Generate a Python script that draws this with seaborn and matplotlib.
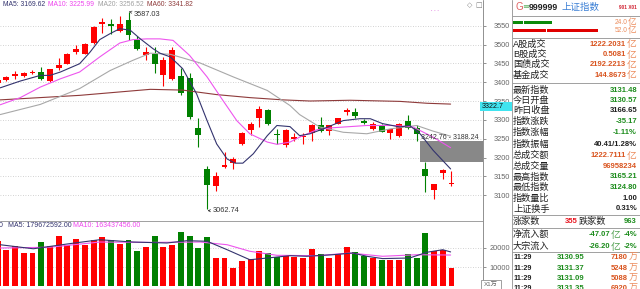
import numpy as np
import pandas as pd
import matplotlib
matplotlib.use("Agg")
import matplotlib.pyplot as plt
from matplotlib.patches import Rectangle
from matplotlib.lines import Line2D
import seaborn as sns

# 上证指数 日K线 (画面内53根)
opens = [3399, 3404.8, 3415.5, 3417.3, 3423.4, 3427, 3403, 3438.6, 3449.2, 3480.1,
         3475.8, 3504, 3553.8, 3555.6, 3536, 3564, 3511, 3472, 3475.8, 3420,
         3409, 3416, 3412, 3278, 3170, 3123.7, 3174, 3185, 3236.4, 3273.7,
         3305.6, 3327, 3262, 3232, 3248, 3254, 3264.6, 3287, 3270, 3289.6,
         3320.5, 3320.5, 3295.8, 3275.3, 3287, 3265.7, 3256, 3295.8, 3279, 3170,
         3115, 3160, 3130.57]
highs = [3407, 3416, 3428.8, 3428, 3433, 3440, 3436, 3464, 3477, 3500,
         3503, 3548, 3569.7, 3569, 3575, 3587.03, 3522, 3493, 3493, 3467,
         3493, 3438.6, 3424, 3305.6, 3178.7, 3161, 3214, 3200.8, 3267, 3294,
         3335.7, 3330, 3276, 3276, 3264.6, 3265, 3289.6, 3307, 3285, 3306,
         3331, 3331, 3303, 3294, 3289, 3276, 3291, 3311.7, 3285, 3188.24,
         3130, 3170, 3165.21]
lows = [3396, 3402, 3409, 3414, 3421, 3405, 3401, 3433, 3447, 3476,
        3474, 3502, 3530.6, 3529, 3534, 3511, 3484.6, 3458, 3424, 3389,
        3405, 3365, 3303, 3227, 3062.74, 3112, 3172.6, 3170, 3232, 3258.5,
        3280.6, 3287, 3236.4, 3227, 3243.4, 3236.4, 3243.4, 3267, 3261, 3288,
        3314, 3305.6, 3289.6, 3273.7, 3267, 3249.7, 3254, 3276, 3242.76, 3107.7,
        3090, 3143, 3124.80]
closes = [3405, 3413.6, 3422.6, 3425.3, 3427, 3409, 3434, 3444.7, 3475.8, 3487.3,
          3501.4, 3546.6, 3559, 3548.5, 3555.6, 3524.5, 3488, 3480, 3447.4, 3460,
          3486.5, 3371, 3307, 3260, 3127, 3150, 3181.4, 3194.7, 3265.7, 3287.8,
          3327.7, 3289.6, 3258.5, 3271.8, 3254, 3258, 3285, 3270, 3285, 3304.5,
          3327, 3309, 3291, 3289.6, 3269, 3276, 3289.6, 3279, 3263, 3152,
          3130, 3166.65, 3131.48]
# 成交量 (万)
volumes = [23800, 19000, 20900, 17400, 17600, 23100, 20900, 26100, 21700, 24800,
           21600, 24000, 25500, 24200, 22200, 24000, 18600, 20700, 26100, 20700,
           21600, 28100, 26100, 20000, 25700, 15000, 15000, 9600, 13400, 14500,
           18600, 17600, 15200, 16000, 15200, 14800, 19500, 16900, 14800, 16700,
           20700, 17700, 15700, 14800, 13800, 13600, 13800, 16900, 14800, 27600,
           18400, 19000, 9696]

# 均线 (按K线序号读取)
ma5_pos = [0.3, 2.6, 4.9, 6.0, 7.2, 9.4, 10.6, 11.7, 12.9, 14.0, 15.2, 16.3, 17.8, 18.6,
           19.8, 21.2, 22.8, 24.0, 25.1, 26.3, 27.2, 28.1, 29.3, 30.9, 32.0, 33.5, 34.6,
           35.8, 37.3, 39.6, 41.5, 42.7, 44.1, 46.1, 47.2, 48.4, 49.9, 51.9]
ma5_val = [3385, 3403, 3418, 3418, 3427, 3449, 3480, 3513, 3529, 3542, 3538, 3516, 3489, 3477,
           3467, 3436, 3369, 3298, 3236, 3196, 3185, 3185, 3210, 3258, 3285, 3282, 3258,
           3263, 3276, 3298, 3303, 3303, 3290, 3281, 3285, 3263, 3219, 3169.62]
ma10_pos = [0.3, 2.6, 4.9, 7.2, 9.4, 11.7, 14.0, 15.5, 17.1, 18.6, 20.1, 22.0, 24.0, 25.8,
            27.4, 28.9, 30.9, 32.0, 33.5, 34.6, 36.6, 38.4, 42.3, 45.3, 47.6, 49.9, 51.9]
ma10_val = [3340, 3359, 3387, 3409, 3427, 3467, 3504, 3513, 3515, 3515, 3511, 3471, 3414, 3352,
            3298, 3263, 3241, 3235, 3241, 3254, 3274, 3279, 3285, 3285, 3281, 3254, 3225.99]
ma20_pos = [0.3, 4.9, 9.4, 12.9, 15.5, 17.5, 19.8, 23.2, 27.0, 30.9, 33.5, 34.6, 36.9, 39.6,
            42.3, 45.0, 48.0, 49.9, 51.9]
ma20_val = [3314, 3341, 3383, 3431, 3458, 3477, 3474, 3451, 3414, 3378, 3338, 3314, 3281, 3267,
            3263, 3276, 3285, 3270, 3256.52]
ma60_pos = [0.3, 9.4, 17.5, 21.2, 25.1, 28.9, 32.7, 35.8, 40.4, 46.1, 49.2, 51.9]
ma60_val = [3353, 3365, 3381, 3379, 3367, 3359, 3353, 3350, 3352, 3349, 3344, 3341.82]
vma5_pos = [0.3, 4.1, 8.0, 11.7, 15.5, 19.4, 21.7, 24.0, 26.3, 28.9, 30.9, 33.5, 35.4, 38.4,
            40.7, 42.3, 44.1, 47.2, 49.2, 51.0, 51.9]
vma5_val = [21700, 19600, 22100, 24300, 23100, 22600, 23800, 23500, 19100, 13900, 14800, 16000,
            15700, 16500, 17400, 15700, 14500, 14800, 17800, 19100, 17967]
vma10_pos = [0.3, 6.0, 11.7, 17.5, 23.2, 26.3, 28.9, 32.0, 36.6, 40.4, 44.1, 48.0, 51.9]
vma10_val = [20000, 20400, 23100, 22900, 23100, 21700, 18300, 16200, 16000, 17400, 15700, 16500,
             16344]

price_ticks = [3100, 3150, 3200, 3250, 3300, 3350, 3400, 3450, 3500, 3550]
vol_ticks = [10000, 20000]
gap_top, gap_bottom = 3242.76, 3188.24

# 右侧报价栏
info_a_labels = ['A股成交', 'B股成交', '国债成交', '基金成交']
info_a_values = ['1222.2031', '0.5081', '2192.2213', '144.8673']
info_b_labels = ['最新指数', '今日开盘', '昨日收盘', '指数涨跌', '指数涨幅', '指数振幅',
                 '总成交额', '总成交量', '最高指数', '最低指数', '指数量比', '上证换手']
info_b_values = ['3131.48', '3130.57', '3166.65', '-35.17', '-1.11%', '40.41/1.28%',
                 '1222.7111', '96958234', '3165.21', '3124.80', '1.00', '0.31%']
info_b_kind = ['g', 'g', 'k', 'g', 'g', 'k', 'o', 'o', 'g', 'g', 'k', 'k']
tick_times = ['11:29', '11:29', '11:29', '11:29']
tick_prices = ['3130.95', '3131.37', '3131.09', '3131.35']
tick_vols = ['7180', '5248', '5088', '6920']
bar_amounts = [24.0, 52.0]

RED = '#ff0000'
GREEN = '#008000'
W, H = 640, 289

sns.set_style("white")
plt.rcParams['font.family'] = ['Liberation Sans', 'Noto Sans CJK SC', 'DejaVu Sans']

fig = plt.figure(figsize=(6.4, 2.89), dpi=100)


def px_box(x0, y0, x1, y1):
    return [x0 / W, 1 - y1 / H, (x1 - x0) / W, (y1 - y0) / H]


def ftext(x, y, s, **kw):
    kw.setdefault('va', 'center')
    fig.text(x / W, 1 - y / H, s, **kw)


def fline(x0, y0, x1, y1, color='#a0a0a0', lw=0.7):
    fig.add_artist(Line2D([x0 / W, x1 / W], [1 - y0 / H, 1 - y1 / H],
                          color=color, lw=lw, transform=fig.transFigure))


def frect(x0, y0, x1, y1, **kw):
    fig.add_artist(Rectangle((x0 / W, 1 - y1 / H), (x1 - x0) / W, (y1 - y0) / H,
                             transform=fig.transFigure, **kw))


ax = fig.add_axes(px_box(0, 0, 483, 221))
axv = fig.add_axes(px_box(0, 221, 483, 289))

idx = np.arange(len(closes))
o = np.array(opens)
c = np.array(closes)
up = c >= o
cols = np.where(up, RED, GREEN)

# K线
ax.vlines(idx, lows, highs, colors=cols, linewidth=0.8, zorder=3)
ax.bar(idx, np.maximum(np.abs(c - o), 2.0), bottom=np.minimum(o, c), width=0.68,
       color=cols, linewidth=0, zorder=3)

# 均线
for pos, val, col in [(ma60_pos, ma60_val, '#8e3a3a'), (ma20_pos, ma20_val, '#a8a8a8'),
                      (ma10_pos, ma10_val, '#ee55ee'), (ma5_pos, ma5_val, '#33336e')]:
    sns.lineplot(x=pos, y=val, color=col, linewidth=0.8, ax=ax, zorder=4)

# 缺口
ax.add_patch(Rectangle((48.35, gap_bottom), 60 - 48.35, gap_top - gap_bottom,
                       facecolor='#888888', edgecolor='none', zorder=2))
ax.text(48.47, 3254.4, f'{gap_top:.2f} - {gap_bottom:.2f}', fontsize=5.0,
        color='#333333', va='center', ha='left', zorder=5)

hi_i = int(np.argmax(highs))
lo_i = int(np.argmin(lows))
ax.annotate(f'{highs[hi_i]:.2f}', xy=(hi_i + 0.05, highs[hi_i]), xytext=(hi_i + 0.55, 3580),
            fontsize=5.3, color='#333333', va='center', ha='left',
            arrowprops=dict(arrowstyle='->', lw=0.5, color='#333333', mutation_scale=4,
                            shrinkA=0, shrinkB=0))
ax.annotate(f'{lows[lo_i]:.2f}', xy=(lo_i + 0.05, 3058.8), xytext=(lo_i + 0.68, 3058.8),
            fontsize=5.3, color='#333333', va='center', ha='left',
            arrowprops=dict(arrowstyle='->', lw=0.5, color='#333333', mutation_scale=4,
                            shrinkA=0, shrinkB=0))

for t in price_ticks:
    ax.axhline(t, color='#c4c4c4', lw=0.6, ls=(0, (1, 2)), zorder=1)

ax.set_xlim(0.278, 55.61)
ax.set_ylim(3031.4, 3618.2)

# 成交量
vdf = pd.DataFrame({'i': idx, 'vol': volumes, 'dir': np.where(up, 'up', 'down')})
sns.barplot(data=vdf, x='i', y='vol', hue='dir', palette={'up': RED, 'down': GREEN},
            native_scale=True, width=0.68, dodge=False, saturation=1, errorbar=None,
            legend=False, linewidth=0, ax=axv, zorder=3)
sns.lineplot(x=vma10_pos, y=vma10_val, color='#ee55ee', linewidth=0.8, ax=axv, zorder=4)
sns.lineplot(x=vma5_pos, y=vma5_val, color='#33336e', linewidth=0.8, ax=axv, zorder=4)
for t in vol_ticks:
    axv.axhline(t, color='#c4c4c4', lw=0.6, ls=(0, (1, 2)), zorder=1)
axv.set_xlim(0.278, 55.61)
axv.set_ylim(-1299, 34026)

for a, ticks, fmt in [(ax, price_ticks, '{}'), (axv, vol_ticks, '{}')]:
    a.set_xlabel('')
    a.set_ylabel('')
    a.set_xticks([])
    for s in a.spines.values():
        s.set_visible(False)
    a.yaxis.tick_right()
    a.set_yticks(ticks)
    a.set_yticklabels([fmt.format(t) for t in ticks])
    a.tick_params(axis='y', direction='out', length=2.2, width=0.6, color='#808080',
                  pad=17.5, labelsize=5.3, labelcolor='#666666')
    for lab in a.get_yticklabels():
        lab.set_ha('right')
    a.patch.set_alpha(0)

# 图例文字
ftext(3, 5, 'MA5: 3169.62', fontsize=4.9, color='#33336e')
ftext(48, 5, 'MA10: 3225.99', fontsize=4.9, color='#ee44ee')
ftext(98, 5, 'MA20: 3256.52', fontsize=4.9, color='#a0a0a0')
ftext(147, 5, 'MA60: 3341.82', fontsize=4.9, color='#8e3a3a')
ftext(431, 10.7, '•  •  •', fontsize=2.6, color='#e080e0')
ftext(467, 5, '◇', fontsize=5, color='#808080', family='DejaVu Sans')
ftext(475, 5, '□', fontsize=5, color='#808080', family='DejaVu Sans')
ftext(-1, 225.3, '0', fontsize=5.0, color='#33336e')
ftext(8, 225.3, 'MA5: 179672592.00', fontsize=5.0, color='#33336e')
ftext(73, 225.3, 'MA10: 163437456.00', fontsize=5.0, color='#ee44ee')

# 分隔线
fline(0, 221, 483, 221)
fline(483, 0, 483, 289, color='#909090')
fline(512, 0, 512, 289, color='#a0a0a0')
for yy in [16, 38, 83, 215, 228, 252]:
    fline(512, yy, 640, yy)

# 价格光标
frect(480, 102, 512, 110.5, facecolor='#40e4f0', edgecolor='none', zorder=5)
ftext(482, 106.3, '3322.7', fontsize=5.2, color='#111111', zorder=6)
frect(481, 280, 501, 289, facecolor='white', edgecolor='#909090', lw=0.6, zorder=5)
ftext(491, 284.5, 'X1万', fontsize=4.5, color='#666666', ha='center', zorder=6)

# 右侧面板
GT = '#1c8c1c'
OR = '#d9541e'
ORL = '#ec8c5c'
KT = '#202020'
ftext(515, 7, 'G', fontsize=7, color='#e06060')
ftext(522.5, 7, '≡', fontsize=6, color='#60b060', family='DejaVu Sans')
ftext(529, 7, '999999', fontsize=6.3, color=KT, weight='bold')
ftext(561, 7, '上证指数', fontsize=6.8, color='#3a7fd5')
ftext(637, 7.5, '901 X01', fontsize=3.4, color='#d02030', ha='right', weight='bold')

bar_full = 85.0
for k, (amt, yy, col) in enumerate(zip(bar_amounts, [21.3, 29.3], ['#0a8a0a', '#e00000'])):
    ln = amt / max(bar_amounts) * bar_full
    frect(513, yy, 513 + ln, yy + 3.0, facecolor=col, edgecolor='none')
    gx = 522.5 if k == 0 else 546
    frect(gx, yy - 0.2, gx + 1.2, yy + 3.2, facecolor='white', edgecolor='none')
    ftext(627.5, yy + 1.4, f'{amt:.1f}', fontsize=4.8, color=ORL, ha='right')
    ftext(627.5, yy + 1.4, '亿', fontsize=6.2, color=ORL)

for lab, val, yy in zip(info_a_labels, info_a_values, [44.3, 54.6, 64.6, 75.2]):
    ftext(513, yy, lab, fontsize=6.6, color=KT)
    ftext(626, yy, val, fontsize=5.5, color=OR, ha='right', weight='bold')
    ftext(626.5, yy, '亿', fontsize=7, color=ORL)

kind_col = {'g': GT, 'k': KT, 'o': OR}
rows_b = [90, 100.2, 110.5, 121.5, 132.6, 144, 155.5, 166, 177, 187.5, 198, 209]
for lab, val, kd, yy in zip(info_b_labels, info_b_values, info_b_kind, rows_b):
    ftext(513, yy, lab, fontsize=6.6, color=KT)
    if lab == '总成交额':
        ftext(626, yy, val, fontsize=5.5, color=OR, ha='right', weight='bold')
        ftext(626.5, yy, '亿', fontsize=7, color=ORL)
    else:
        ftext(637, yy, val, fontsize=5.5, color=kind_col[kd], ha='right', weight='bold')

ftext(513, 221.3, '涨家数', fontsize=6.6, color=KT)
ftext(578, 221.3, '355', fontsize=5.5, color='#e8141e', ha='right', weight='bold')
ftext(579, 221.3, '跌家数', fontsize=6.6, color=KT)
ftext(637, 221.3, '963', fontsize=5.5, color=GT, ha='right', weight='bold')

for lab, amt, pct, yy in [('净流入额', '-47.07', '-4%', 235), ('大宗流入', '-26.20', '-2%', 246.7)]:
    ftext(513, yy, lab, fontsize=6.6, color=KT)
    ftext(610, yy, amt, fontsize=5.5, color=GT, ha='right', weight='bold')
    ftext(610.3, yy, '亿', fontsize=7, color='#50a050')
    ftext(637, yy, pct, fontsize=5.5, color=GT, ha='right', weight='bold')

for tm, pr, vo, yy in zip(tick_times, tick_prices, tick_vols, [257.5, 268, 278, 288]):
    ftext(513, yy, tm, fontsize=5.2, color=KT, weight='bold')
    ftext(584, yy, pr, fontsize=5.5, color=GT, ha='right', weight='bold')
    ftext(628, yy, vo, fontsize=5.5, color=OR, ha='right', weight='bold')
    ftext(628.3, yy, '万', fontsize=6.5, color=ORL)

fig.savefig('out.png', dpi=100, facecolor='white')
